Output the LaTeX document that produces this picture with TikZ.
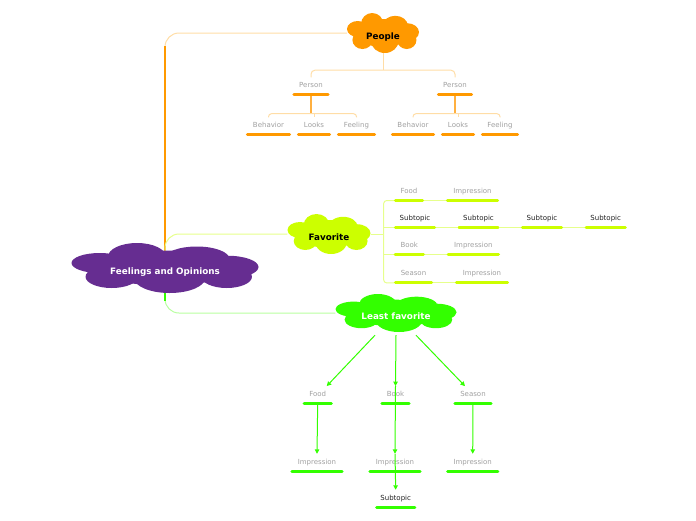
\documentclass[tikz,border=0pt]{standalone}
\usepackage{fontspec}
\setmainfont{DejaVu Sans}
\usetikzlibrary{arrows.meta,calc,backgrounds}
\pgfdeclarelayer{cl}
\pgfsetlayers{background,cl,main}
\definecolor{cOr}{HTML}{FF9900}
\definecolor{cOrM}{HTML}{FFB040}
\definecolor{cOrP}{HTML}{FFDDA6}
\definecolor{cYg}{HTML}{CCFF00}
\definecolor{cYgP}{HTML}{E6FF8C}
\definecolor{cGr}{HTML}{33FF00}
\definecolor{cGrP}{HTML}{B8FFA0}
\definecolor{cPu}{HTML}{662D91}
\definecolor{cTx}{HTML}{A0A0A0}
\definecolor{cDk}{HTML}{222222}
\tikzset{
  ctext/.style={inner sep=0pt, font=\bfseries\fontsize{8.8}{10}\selectfont,
    text height=13pt, text depth=0pt},
  lbl/.style={font=\fontsize{7}{8}\selectfont, text=cTx, inner sep=0pt,
    text height=5pt, text depth=1.5pt, minimum height=17pt},
  sub/.style={lbl, text=cDk},
  bar/.style={line width=3pt, line cap=round},
  pale/.style={line width=1pt},
  arr/.style={cGr, line width=1pt, -{Triangle[length=4.5pt,width=4.5pt]}}
}
% cloud: name, x, y, width, height, fill, text colour, text
\newcommand\cloudnode[8]{%
  \node[ctext, text=#7, minimum width=#4pt, minimum height=#5pt] (#1) at (#2,#3) {#8};
  \begin{pgfonlayer}{cl}
  \begin{scope}[shift={(#2,#3)}, xscale=#4/2, yscale=#5/2]
    \fill[#6] (-0.70,-0.20) ellipse [x radius=0.30, y radius=0.40];
    \fill[#6] (-0.30,-0.45) ellipse [x radius=0.31, y radius=0.55];
    \fill[#6] ( 0.34,-0.36) ellipse [x radius=0.35, y radius=0.50];
    \fill[#6] ( 0.67,-0.04) ellipse [x radius=0.33, y radius=0.45];
    \fill[#6] (-0.57, 0.35) ellipse [x radius=0.28, y radius=0.45];
    \fill[#6] ( 0.05, 0.40) ellipse [x radius=0.38, y radius=0.60];
    \fill[#6] ( 0.66, 0.35) ellipse [x radius=0.27, y radius=0.45];
    \fill[#6] ( 0.00, 0.00) ellipse [x radius=0.75, y radius=0.70];
  \end{scope}
  \end{pgfonlayer}}
% topic: name, x, y, text, bar width, style, bar colour
\newcommand\tpc[7]{%
  \node[#6, minimum width=#5pt] (#1) at (#2,#3) {#4};
  \draw[bar,#7] ([xshift=1.5pt]#1.south west) -- ([xshift=-1.5pt]#1.south east);}
\begin{document}
\begin{tikzpicture}[x=1pt,y=-1pt]
\useasboundingbox (0,0) rectangle (696,520);
% clouds
\cloudnode{root}{165}{268}{187}{50}{cPu}{white}{Feelings and Opinions}
\cloudnode{people}{383}{33}{72}{40}{cOr}{black}{People}
\cloudnode{fav}{329}{234}{83}{40}{cYg}{black}{Favorite}
\cloudnode{least}{396}{313}{121}{38}{cGr}{white}{Least favorite}
% People subtree
\tpc{p1}{311}{86}{Person}{37}{lbl}{cOr}
\tpc{p2}{455}{86}{Person}{36}{lbl}{cOr}
\tpc{b1}{268.5}{126}{Behavior}{45}{lbl}{cOr}
\tpc{l1}{314}{126}{Looks}{34}{lbl}{cOr}
\tpc{f1}{356.5}{126}{Feeling}{39}{lbl}{cOr}
\tpc{b2}{413}{126}{Behavior}{44}{lbl}{cOr}
\tpc{l2}{458}{126}{Looks}{34}{lbl}{cOr}
\tpc{f2}{500}{126}{Feeling}{38}{lbl}{cOr}
% Favorite subtree
\tpc{ffood}{409}{191.8}{Food}{30}{lbl}{cYg}
\tpc{fimp1}{472.5}{191.8}{Impression}{53}{lbl}{cYg}
\tpc{fsub1}{415}{218.5}{Subtopic}{42}{sub}{cYg}
\tpc{fsub2}{478.5}{218.5}{Subtopic}{42}{sub}{cYg}
\tpc{fsub3}{542}{218.5}{Subtopic}{42}{sub}{cYg}
\tpc{fsub4}{605.7}{218.5}{Subtopic}{42}{sub}{cYg}
\tpc{fbook}{409.3}{246.2}{Book}{31}{lbl}{cYg}
\tpc{fimp2}{473.3}{246.2}{Impression}{53}{lbl}{cYg}
\tpc{fseason}{413.5}{274.2}{Season}{39}{lbl}{cYg}
\tpc{fimp3}{482}{274.2}{Impression}{54}{lbl}{cYg}
% Least favorite subtree
\tpc{lfood}{317.7}{394.8}{Food}{30}{lbl}{cGr}
\tpc{lbook}{395.5}{394.8}{Book}{30}{lbl}{cGr}
\tpc{lseason}{473}{394.8}{Season}{39}{lbl}{cGr}
\tpc{limp1}{317}{462.5}{Impression}{53}{lbl}{cGr}
\tpc{limp2}{395}{462.5}{Impression}{53}{lbl}{cGr}
\tpc{limp3}{472.7}{462.5}{Impression}{53}{lbl}{cGr}
\tpc{lsub}{395.7}{498.5}{Subtopic}{41}{sub}{cGr}
% connectors
\begin{scope}[on background layer]
  \draw[pale, cOrP, rounded corners=14pt] (root.center) |- (people.west);
  \draw[cOr, line width=2.5pt] (root.center) -- ($(root.center |- people.west)+(0,13)$);
  \draw[pale, cYgP, rounded corners=14pt] (root.center) |- (fav.west);
  \draw[pale, cGrP, rounded corners=14pt] (root.center) |- (least.west);
  \draw[cGr, line width=2.5pt] (root.center) -- ($(root.center |- least.west)+(0,-12)$);
  % people
  \coordinate (pj) at ($(people.south)+(0,17)$);
  \draw[pale, cOrP] (people.south) -- (pj);
  \draw[pale, cOrP, rounded corners=4pt] (p1.north) |- (pj) -| (p2.north);
  \coordinate (p1j) at ($(p1.south)+(0,19)$);
  \coordinate (p2j) at ($(p2.south)+(0,19)$);
  \draw[cOrM, line width=1.3pt] (p1.south) -- (p1j);
  \draw[cOrM, line width=1.3pt] (p2.south) -- (p2j);
  \draw[pale, cOrP, rounded corners=3pt] (b1.north) |- (p1j) -| (f1.north);
  \draw[pale, cOrP] (p1j -| l1.north) -- (l1.north);
  \draw[pale, cOrP, rounded corners=3pt] (b2.north) |- (p2j) -| (f2.north);
  \draw[pale, cOrP] (p2j -| l2.north) -- (l2.north);
  % favorite
  \coordinate (fv) at ($(fav.east)+(13,0)$);
  \draw[pale, cYgP] (fav.east) -- (fv);
  \draw[pale, cYgP, rounded corners=3pt] (ffood.south west) -| (fv) |- (fseason.south west);
  \draw[pale, cYgP] (fv |- fsub1.south west) -- (fsub1.south west);
  \draw[pale, cYgP] (fv |- fbook.south west) -- (fbook.south west);
  \draw[pale, cYgP] (ffood.south east) -- (fimp1.south west);
  \draw[pale, cYgP] (fsub1.south east) -- (fsub2.south west);
  \draw[pale, cYgP] (fsub2.south east) -- (fsub3.south west);
  \draw[pale, cYgP] (fsub3.south east) -- (fsub4.south west);
  \draw[pale, cYgP] (fbook.south east) -- (fimp2.south west);
  \draw[pale, cYgP] (fseason.south east) -- (fimp3.south west);
\end{scope}
% least favorite arrows
\draw[arr] ([xshift=-21pt,yshift=-3pt]least.south) -- ($(lfood.north)+(9,0)$);
\draw[arr] ([yshift=-3pt]least.south) -- (lbook.north);
\draw[arr] ([xshift=20pt,yshift=-3pt]least.south) -- ($(lseason.north)+(-8,0)$);
\draw[arr] (lfood.south) -- (limp1.north);
\draw[arr] (lbook.north) -- (limp2.north);
\draw[arr] (limp2.north) -- (lsub.north);
\draw[arr] (lseason.south) -- (limp3.north);
\end{tikzpicture}
\end{document}
